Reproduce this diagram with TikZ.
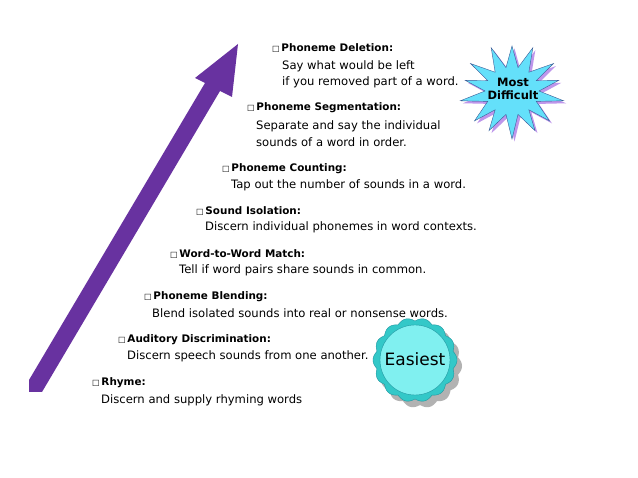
\documentclass[tikz,border=0pt]{standalone}
\usepackage{fontspec}
\setmainfont{DejaVu Sans}
\definecolor{arrowpurple}{RGB}{104,50,160}
\definecolor{starblue}{RGB}{100,224,250}
\definecolor{starshadow}{RGB}{190,150,235}
\definecolor{starline}{RGB}{60,90,150}
\definecolor{ringteal}{RGB}{51,200,200}
\definecolor{innercyan}{RGB}{128,240,240}
\definecolor{ringline}{RGB}{30,150,160}
\newcommand{\bx}{\raisebox{0.4pt}{\fontsize{8}{9}\selectfont\mdseries □}\,}
\begin{document}
\begin{tikzpicture}[x=1pt,y=1pt,
  head/.style={anchor=west,inner sep=0pt,font=\fontsize{10.4}{12}\selectfont\bfseries},
  body/.style={anchor=west,inner sep=0pt,font=\fontsize{11.6}{13}\selectfont},
  badge/.style={inner sep=0pt,align=center}]
\useasboundingbox (0,0) rectangle (638,478);
\fill[white] (0,0) rectangle (638,478);
% arrow
\fill[arrowpurple] (29,{478-392}) -- (29,{478-380}) -- (205,{478-83}) -- (195,{478-78}) -- (238,{478-44}) -- (232,{478-97}) -- (220,{478-91}) -- (42,{478-392}) -- cycle;
% levels
\node[head] (h1) at (272,430) {\bx Phoneme Deletion:};
\node[body] (b1a) at (282,412) {Say what would be left};
\node[body] (b1b) at (282,396) {if you removed part of a word.};
\node[head] (h2) at (247,370) {\bx Phoneme Segmentation:};
\node[body] (b2a) at (256,352) {Separate and say the individual};
\node[body] (b2b) at (256,336) {sounds of a word in order.};
\node[head] (h3) at (222,309) {\bx Phoneme Counting:};
\node[body] (b3) at (231,293) {Tap out the number of sounds in a word.};
\node[head] (h4) at (196,267) {\bx Sound Isolation:};
\node[body] (b4) at (205,251) {Discern individual phonemes in word contexts.};
\node[head] (h5) at (170,224) {\bx Word-to-Word Match:};
\node[body] (b5) at (179,208) {Tell if word pairs share sounds in common.};
\node[head] (h6) at (144,181) {\bx Phoneme Blending:};
\node[body] (b6) at (152,165) {Blend isolated sounds into real or nonsense words.};
\node[head] (h7) at (118,138) {\bx Auditory Discrimination:};
\node[body] (b7) at (127,122) {Discern speech sounds from one another.};
\node[head] (h8) at (92,95) {\bx Rhyme:};
\node[body] (b8) at (101,78) {Discern and supply rhyming words};
% star (Most Difficult)
\begin{scope}[shift={(512,387)}]
\fill[starshadow] ([shift={(2.5,-2.5)}]90:45) \foreach \i in {1,...,27} {
  -- ([shift={(2.5,-2.5)}]{90+\i*12.857}:{ifthenelse(isodd(\i),27,{ifthenelse(mod(\i,4)==0,53,48)})} and {ifthenelse(isodd(\i),24,{ifthenelse(mod(\i,4)==0,44,48)})})} -- cycle;
\filldraw[fill=starblue,draw=starline,line width=0.4pt] (90:45) \foreach \i in {1,...,27} {
  -- ({90+\i*12.857}:{ifthenelse(isodd(\i),27,{ifthenelse(mod(\i,4)==0,53,48)})} and {ifthenelse(isodd(\i),24,{ifthenelse(mod(\i,4)==0,44,48)})})} -- cycle;
\end{scope}
\node[badge,font=\fontsize{11.5}{13}\selectfont\bfseries] (hard) at (513,389) {Most\\Difficult};
% Easiest badge
\fill[gray!60] plot[domain=0:360,samples=281,variable=\t] ({420+(39+3*abs(cos(7*\t)))*cos(\t)},{112+(39+3*abs(cos(7*\t)))*sin(\t)}) -- cycle;
\filldraw[fill=ringteal,draw=ringline,line width=0.4pt] plot[domain=0:360,samples=281,variable=\t] ({415+(39+3*abs(cos(7*\t)))*cos(\t)},{118+(39+3*abs(cos(7*\t)))*sin(\t)}) -- cycle;
\filldraw[fill=innercyan,draw=ringline,line width=0.4pt] (415,118) circle (35);
\node[badge,font=\fontsize{17}{19}\selectfont] (easy) at (415,119) {Easiest};
\end{tikzpicture}
\end{document}
